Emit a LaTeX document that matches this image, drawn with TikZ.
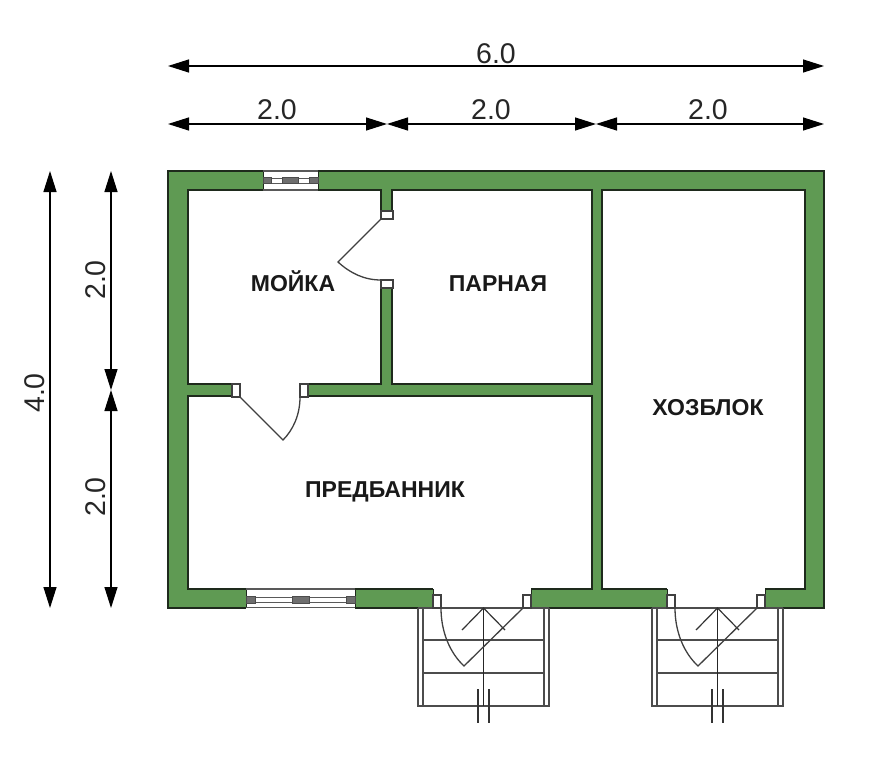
\documentclass[tikz,border=0pt]{standalone}
\usepackage{fontspec}
\setmainfont{Liberation Sans}
\usetikzlibrary{arrows.meta}
\definecolor{wallgreen}{HTML}{5F9A53}
\definecolor{wallline}{HTML}{1E2A1C}
\definecolor{glassgrey}{HTML}{6E6E6E}
\tikzset{
  wall/.style={fill=wallgreen,draw=wallline,line width=1.3pt},
  room/.style={fill=white,draw=wallline,line width=1.3pt},
  gap/.style={fill=white,draw=none},
  frame/.style={fill=white,draw=black!75,line width=1.1pt},
  leaf/.style={draw=black!75,line width=1.3pt,line join=miter},
  porch/.style={draw=black!70,line width=1.2pt},
  pane/.style={fill=glassgrey,draw=black!70,line width=.5pt},
  winline/.style={draw=black!65,line width=1.1pt},
  dim/.style={draw=black,line width=1.2pt,{Triangle[length=21pt,width=13pt]}-{Triangle[length=21pt,width=13pt]}},
  dimtext/.style={font=\fontsize{28.5}{31}\selectfont,text=black!85,inner sep=0pt},
  roomtext/.style={font=\fontsize{23}{25}\selectfont\bfseries,text=black!90,inner sep=0pt}
}
\begin{document}
\begin{tikzpicture}[x=1pt,y=-1pt]
\useasboundingbox (0,0) rectangle (890,768);
% walls
\path[wall] (168,171) rectangle (824,608);
\path[room] (188,190) rectangle (381,384);
\path[room] (392,190) rectangle (592,384);
\path[room] (188,396) rectangle (592,589);
\path[room] (602,190) rectangle (805,589);
% openings
\path[gap] (380,219) rectangle (393,280);
\path[gap] (240,383) rectangle (300,397);
\path[gap] (246,588) rectangle (355,609.5);
\path[gap] (263,169.5) rectangle (318,191);
\path[gap] (433,588) rectangle (531,609.5);
\path[gap] (667,588) rectangle (765,609.5);
% ends of walls at openings
\draw[wallline,line width=1pt] (246,589)--(246,608) (355,589)--(355,608) (263,171)--(263,190) (318,171)--(318,190);
\draw[wallline,line width=1pt] (433,589)--(433,608) (531,589)--(531,608) (667,589)--(667,608) (765,589)--(765,608);
% top window
\draw[winline] (263,171)--(318,171) (263,190)--(318,190);
\draw[winline,line width=.6pt] (263,178)--(318,178) (263,183)--(318,183);
\path[pane] (263,177.5) rectangle (271,183);
\path[pane] (282,177.5) rectangle (298,183);
\path[pane] (309,177.5) rectangle (318,183);
% bottom window
\draw[winline] (246,589)--(355,589) (246,607.5)--(355,607.5);
\draw[winline,line width=.6pt] (246,597)--(355,597) (246,602)--(355,602);
\path[pane] (246,596) rectangle (255,603);
\path[pane] (292,596) rectangle (309,603);
\path[pane] (346,596) rectangle (355,603);
% inner door: wash / steam
\path[frame] (381,211) rectangle (393,219);
\path[frame] (381,280) rectangle (393,288);
\draw[leaf] (381,219) -- (338,262) .. controls (350,273) and (364,280) .. (381,280);
% inner door: wash / lobby
\path[frame] (232,384) rectangle (240,397);
\path[frame] (300,384) rectangle (308,397);
\draw[leaf] (240,397) -- (283,440) .. controls (293,430) and (300,415) .. (300,397);
% porches
\foreach \dx in {0,234}{
\begin{scope}[xshift=\dx]
\draw[porch] (418,608)--(418,706)--(549,706)--(549,608);
\draw[porch] (423,608)--(423,706) (544,608)--(544,706);
\draw[porch] (418,608)--(433,608) (441,608)--(523,608) (531,608)--(549,608);
\draw[porch] (423,640)--(544,640) (423,673)--(544,673);
\draw[porch,draw=black!85] (483.5,608)--(483.5,706);
\draw[porch,draw=black!80] (462,630)--(483.5,608)--(505,630);
\draw[porch,draw=black!80] (478,689)--(478,723) (489,689)--(489,723);
\path[frame] (433,595) rectangle (441,608);
\path[frame] (523,595) rectangle (531,608);
\draw[leaf] (523,608) -- (464,666) .. controls (450,653) and (441,632) .. (441,608);
\end{scope}}
% dimension anchors
\coordinate (tl) at (168,66); \coordinate (tr) at (824,66);
\coordinate (a0) at (168,124); \coordinate (a1) at (387,124);
\coordinate (a2) at (596,124); \coordinate (a3) at (824,124);
\coordinate (l0) at (50,171); \coordinate (l1) at (50,608);
\coordinate (v0) at (111,171); \coordinate (v1) at (111,390); \coordinate (v2) at (111,608);
\draw[dim] (tl)--(tr);
\draw[dim] (a0)--(a1);
\draw[dim] (a1)--(a2);
\draw[dim] (a2)--(a3);
\draw[dim] (l0)--(l1);
\draw[dim] (v0)--(v1);
\draw[dim] (v1)--(v2);
% texts
\node[dimtext] (t60) at (496,53.5) {6.0};
\node[dimtext] (t21) at (277,110) {2.0};
\node[dimtext] (t22) at (491,110) {2.0};
\node[dimtext] (t23) at (708,110) {2.0};
\node[dimtext,rotate=90] (t40) at (35,393) {4.0};
\node[dimtext,rotate=90] (t24) at (96,280) {2.0};
\node[dimtext,rotate=90] (t25) at (96,497) {2.0};
\node[roomtext] (r1) at (293,281.5) {МОЙКА};
\node[roomtext] (r2) at (498,284) {ПАРНАЯ};
\node[roomtext] (r3) at (708,408) {ХОЗБЛОК};
\node[roomtext] (r4) at (385,492) {ПРЕДБАННИК};
\end{tikzpicture}
\end{document}
